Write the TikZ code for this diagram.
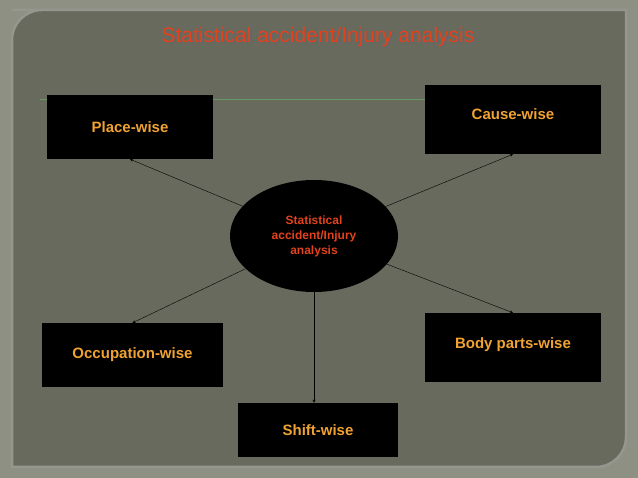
\documentclass[tikz,border=0pt]{standalone}
\usepackage{fontspec}
\setmainfont{Liberation Sans}
\usetikzlibrary{shapes.geometric}
\definecolor{outerbg}{HTML}{8E9083}
\definecolor{panel}{HTML}{686A5E}
\definecolor{titlered}{HTML}{E2421C}
\definecolor{boxorange}{HTML}{F0A232}
\tikzset{%
    box/.style={fill=black,text=boxorange,font=\bfseries\fontsize{15}{18}\selectfont,inner sep=0pt}
}

\begin{document}
\begin{tikzpicture}[
        x=1pt,y=-1pt,
        arr/.style={-stealth,thin,black},
        ctrnode/.style={ellipse,fill=black,text=titlered,minimum width=168,minimum height=112,
            inner sep=0pt,align=center,font=\bfseries\fontsize{12}{15}\selectfont}
        ]
        \fill[outerbg] (0,0) rectangle (638,478);
        \draw[panel!70!white,line width=2.5,fill=panel] (12,10) -- (626,10) -- (626,437)
            arc[start angle=0,end angle=90,radius=30] -- (12,467) -- (12,40)
            arc[start angle=180,end angle=270,radius=30] -- cycle;
        \node[text=black!60,font=\fontsize{21}{24}\selectfont] at (319.5,38.5) {Statistical accident/Injury analysis};
        \node[text=titlered,font=\fontsize{21}{24}\selectfont] (title) at (318,37) {Statistical accident/Injury analysis};
        \draw[green!20!gray,thin] (40,99) -- (425,99);

        \node[box,minimum width=166,minimum height=64] (place) at (130,127) {Place-wise};
        \node[box,minimum width=176,minimum height=69] (cause) at (513,119.5) {\raisebox{10pt}{Cause-wise}};
        \node[box,minimum width=181,minimum height=64] (occ) at (132.5,355) {Occupation-wise};
        \node[box,minimum width=176,minimum height=69] (body) at (513,347.5) {\raisebox{8pt}{Body parts-wise}};
        \node[box,minimum width=160,minimum height=54] (shift) at (318,430) {Shift-wise};
        \node[ctrnode] (ctr) at (314,236) {Statistical\\accident/Injury\\analysis};

        \draw[arr] (ctr) -- (place.south);
        \draw[arr] (ctr) -- (cause.south);
        \draw[arr] (ctr) -- (occ.north);
        \draw[arr] (ctr) -- (body.north);
        \draw[arr] (ctr) -- (ctr |- shift.north);
    \end{tikzpicture}
\end{document}
